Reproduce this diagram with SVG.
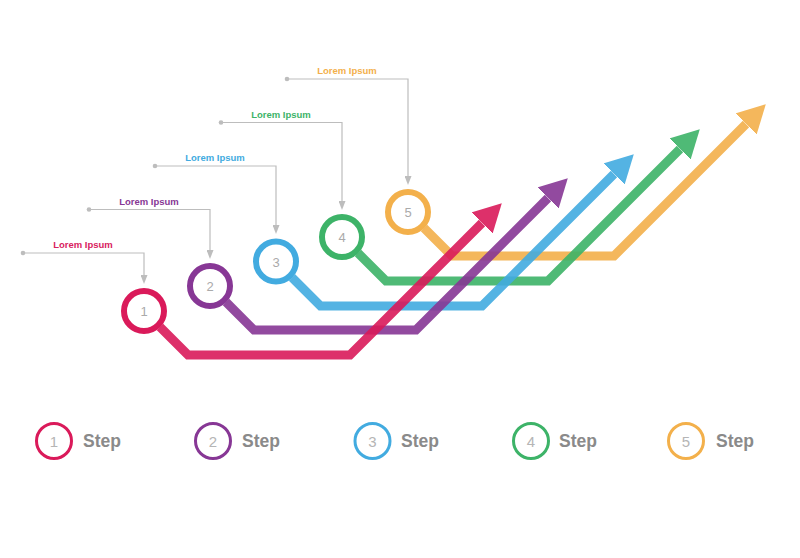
<svg xmlns="http://www.w3.org/2000/svg" width="800" height="558" viewBox="0 0 800 558">
<defs>
<style>
.ln{fill:none;stroke-width:9;stroke-linejoin:miter;opacity:0.9}
.ring{fill:#fff;stroke-width:6}
.num{font-family:"Liberation Sans",Arial,sans-serif;font-size:13px;fill:#aaa;text-anchor:middle}
.lbl{font-family:"Liberation Sans",Arial,sans-serif;font-size:9.5px;font-weight:bold;text-anchor:middle}
.lead{fill:none;stroke:#bdbdbd;stroke-width:1.2}
.dot{fill:#bdbdbd}
.lring{fill:#fff;stroke-width:3}
.lnum{font-family:"Liberation Sans",Arial,sans-serif;font-size:15px;fill:#b5b5b5;text-anchor:middle}
.step{font-family:"Liberation Sans",Arial,sans-serif;font-size:17.5px;font-weight:bold;fill:#8a8a8a}
</style>
<marker id="ah1" markerUnits="userSpaceOnUse" markerWidth="28" markerHeight="30" viewBox="0 -15 28 30" refX="0" refY="0" orient="auto"><path d="M0 -15 L28 0 L0 15 Z" fill="#da1a5a"/></marker>
<marker id="ah2" markerUnits="userSpaceOnUse" markerWidth="28" markerHeight="30" viewBox="0 -15 28 30" refX="0" refY="0" orient="auto"><path d="M0 -15 L28 0 L0 15 Z" fill="#873795"/></marker>
<marker id="ah3" markerUnits="userSpaceOnUse" markerWidth="28" markerHeight="30" viewBox="0 -15 28 30" refX="0" refY="0" orient="auto"><path d="M0 -15 L28 0 L0 15 Z" fill="#42abe0"/></marker>
<marker id="ah4" markerUnits="userSpaceOnUse" markerWidth="28" markerHeight="30" viewBox="0 -15 28 30" refX="0" refY="0" orient="auto"><path d="M0 -15 L28 0 L0 15 Z" fill="#3db368"/></marker>
<marker id="ah5" markerUnits="userSpaceOnUse" markerWidth="28" markerHeight="30" viewBox="0 -15 28 30" refX="0" refY="0" orient="auto"><path d="M0 -15 L28 0 L0 15 Z" fill="#f3b04b"/></marker>
<marker id="lah" markerUnits="userSpaceOnUse" markerWidth="9" markerHeight="7" viewBox="0 -3.5 9 7" refX="0" refY="0" orient="auto"><path d="M0 -3.5 L9 0 L0 3.5 Z" fill="#bdbdbd"/></marker>
</defs>
<rect width="800" height="558" fill="#fff"/>

<g id="connectors">
  <path class="ln" stroke="#f3b04b" marker-end="url(#ah5)" d="M424 228 L452 256 L614 256 L746 124"/>
  <path class="ln" stroke="#3db368" marker-end="url(#ah4)" d="M358 253 L386 281 L548 281 L680 149"/>
  <path class="ln" stroke="#42abe0" marker-end="url(#ah3)" d="M292 277.5 L320.5 306 L482 306 L614 174"/>
  <path class="ln" stroke="#873795" marker-end="url(#ah2)" d="M226 302 L254 330 L416 330 L548 198"/>
  <path class="ln" stroke="#da1a5a" marker-end="url(#ah1)" d="M160 327 L188 355 L350 355 L482 223"/>

  <circle class="dot" cx="23" cy="253" r="2.3"/>
  <path class="lead" marker-end="url(#lah)" d="M23 253 H144 V275"/>
  <circle class="dot" cx="89" cy="209.5" r="2.3"/>
  <path class="lead" marker-end="url(#lah)" d="M89 209.5 H210 V250"/>
  <circle class="dot" cx="155" cy="166" r="2.3"/>
  <path class="lead" marker-end="url(#lah)" d="M155 166 H276 V225"/>
  <circle class="dot" cx="221" cy="122.5" r="2.3"/>
  <path class="lead" marker-end="url(#lah)" d="M221 122.5 H342 V201"/>
  <circle class="dot" cx="287" cy="79" r="2.3"/>
  <path class="lead" marker-end="url(#lah)" d="M287 79 H408 V176"/>
</g>

<g id="node1">
  <circle class="ring" stroke="#da1a5a" cx="144" cy="311" r="20"/>
  <text class="num" x="144" y="316">1</text>
  <text class="lbl" fill="#d8215e" x="83" y="248">Lorem Ipsum</text>
</g>
<g id="node2">
  <circle class="ring" stroke="#873795" cx="210" cy="286" r="20"/>
  <text class="num" x="210" y="291">2</text>
  <text class="lbl" fill="#873795" x="149" y="204.5">Lorem Ipsum</text>
</g>
<g id="node3">
  <circle class="ring" stroke="#42abe0" cx="276" cy="261.5" r="20"/>
  <text class="num" x="276" y="266.5">3</text>
  <text class="lbl" fill="#42abe0" x="215" y="161">Lorem Ipsum</text>
</g>
<g id="node4">
  <circle class="ring" stroke="#3db368" cx="342" cy="237" r="20"/>
  <text class="num" x="342" y="242">4</text>
  <text class="lbl" fill="#3db368" x="281" y="117.5">Lorem Ipsum</text>
</g>
<g id="node5">
  <circle class="ring" stroke="#f3b04b" cx="408" cy="212" r="20"/>
  <text class="num" x="408" y="217">5</text>
  <text class="lbl" fill="#f3b04b" x="347" y="74">Lorem Ipsum</text>
</g>

<g id="legend1">
  <circle class="lring" stroke="#da1a5a" cx="54" cy="441" r="17.5"/>
  <text class="lnum" x="54" y="446.5">1</text>
  <text class="step" x="83" y="446.5">Step</text>
</g>
<g id="legend2">
  <circle class="lring" stroke="#873795" cx="213" cy="441" r="17.5"/>
  <text class="lnum" x="213" y="446.5">2</text>
  <text class="step" x="242" y="446.5">Step</text>
</g>
<g id="legend3">
  <circle class="lring" stroke="#42abe0" cx="372.5" cy="441" r="17.5"/>
  <text class="lnum" x="372.5" y="446.5">3</text>
  <text class="step" x="401" y="446.5">Step</text>
</g>
<g id="legend4">
  <circle class="lring" stroke="#3db368" cx="531" cy="441" r="17.5"/>
  <text class="lnum" x="531" y="446.5">4</text>
  <text class="step" x="559" y="446.5">Step</text>
</g>
<g id="legend5">
  <circle class="lring" stroke="#f3b04b" cx="686" cy="441" r="17.5"/>
  <text class="lnum" x="686" y="446.5">5</text>
  <text class="step" x="716" y="446.5">Step</text>
</g>
</svg>
